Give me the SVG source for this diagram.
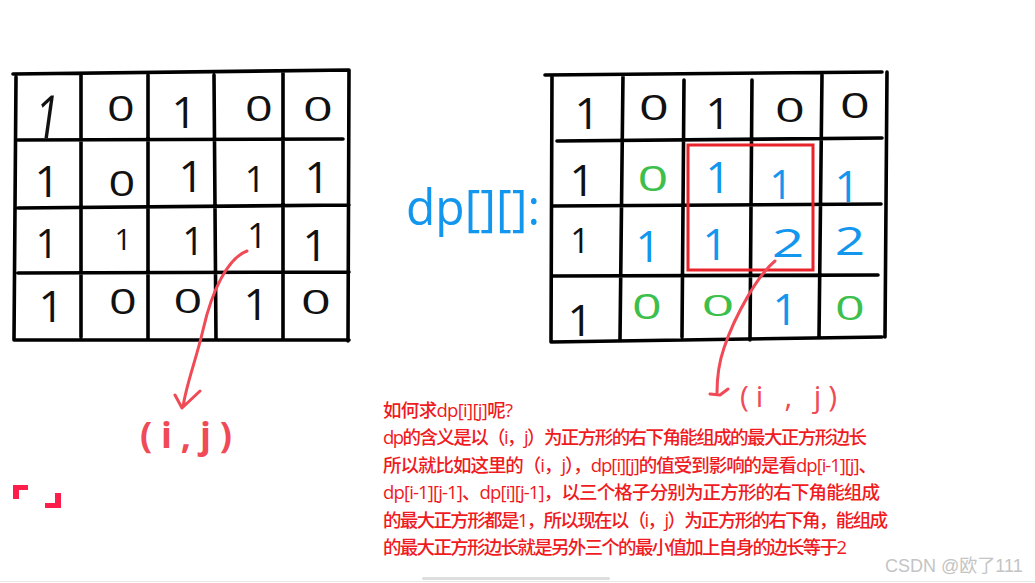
<svg xmlns="http://www.w3.org/2000/svg" width="1035" height="583" viewBox="0 0 1035 583">
<style>
.g{stroke:#000;stroke-width:3.6;stroke-linecap:round;fill:none}
.d{font-family:"Open Sans","DejaVu Sans",sans-serif;text-anchor:middle}
.one{font-size:44px}
.zero{font-size:36px}
.two{font-size:38px}
.k{fill:#111}
.b{fill:#1296ee}
.gr{fill:#3cbf4c}
.hw{stroke:#f04a56;stroke-width:3;fill:none;stroke-linecap:round;stroke-linejoin:round}
.hwt{font-family:"Open Sans","DejaVu Sans",sans-serif;fill:#f04a56}
.p{font-family:"Open Sans","Noto Sans CJK SC",sans-serif;font-size:18.5px;font-weight:500;fill:#f01a22}
</style>
<rect width="1035" height="583" fill="#fff"/>

<g id="left-grid">
<path class="g" d="M13,74 L349,70 M16,77 L14,340 M14,340 L349,340 M349,70 L348,341 M18,140 L343,139 M18,208 L349,205 M18,273 L349,272 M81,75 L81,337 M148,75 L148,339 M214,75 L216,340 M283,73 L283,339"/>
<g class="d k">
<text class="one" transform="translate(45,138) skewX(-8) scale(1,1.35)">1</text>
<text class="zero" transform="translate(121,121) scale(1.35,0.95)">0</text>
<text class="one" x="184" y="128">1</text>
<text class="zero" transform="translate(259,121) scale(1.35,0.95)">0</text>
<text class="zero" transform="translate(318,121) scale(1.45,0.9)">0</text>
<text class="one" x="47" y="197">1</text>
<text class="zero" transform="translate(122,196) scale(1.3,0.95)">0</text>
<text class="one" x="191" y="192">1</text>
<text class="one" x="255" y="192" style="font-size:36px">1</text>
<text class="one" x="317" y="193">1</text>
<text class="one" x="47" y="258" style="font-size:40px">1</text>
<text class="one" x="123" y="250" style="font-size:30px">1</text>
<text class="one" x="193" y="255" style="font-size:38px">1</text>
<text class="one" x="257" y="248" style="font-size:34px">1</text>
<text class="one" x="315" y="261">1</text>
<text class="one" x="51" y="322">1</text>
<text class="zero" transform="translate(123,314) scale(1.35,0.95)">0</text>
<text class="zero" transform="translate(188,313) scale(1.4,0.9)">0</text>
<text class="one" x="256" y="320">1</text>
<text class="zero" transform="translate(316,314) scale(1.45,0.9)">0</text>
</g>
</g>

<g id="right-grid">
<path class="g" d="M545,75 L882,72 M552,76 L551,342 M551,342 L882,337 M887,72 L885,337 M557,141 L882,138 M552,206 L881,204 M553,276 L878,275 M623,75 L620,340 M684,80 L682,337 M752,80 L750,340 M822,75 L819,337"/>
<g class="d">
<text class="one k" x="587" y="129">1</text>
<text class="zero k" transform="translate(654,120) scale(1.45,0.95)">0</text>
<text class="one k" x="718" y="129">1</text>
<text class="zero k" transform="translate(790,122) scale(1.45,0.9)">0</text>
<text class="zero k" transform="translate(855,118) scale(1.45,0.95)">0</text>
<text class="one k" x="582" y="196">1</text>
<text class="zero gr" transform="translate(653,191) scale(1.5,0.95)">0</text>
<text class="one b" x="718" y="193">1</text>
<text class="one b" x="781" y="199" style="font-size:40px">1</text>
<text class="one b" x="847" y="202">1</text>
<text class="one k" x="580" y="253" style="font-size:34px">1</text>
<text class="one b" x="648" y="262">1</text>
<text class="one b" x="715" y="260">1</text>
<text class="two b" transform="translate(788,257) scale(1.5,1)">2</text>
<text class="two b" transform="translate(850,255) scale(1.4,1)">2</text>
<text class="one k" x="580" y="336">1</text>
<text class="zero gr" transform="translate(647,319) scale(1.45,0.95)">0</text>
<text class="zero gr" transform="translate(718,316) scale(1.6,0.8)">0</text>
<text class="one b" x="785" y="325">1</text>
<text class="zero gr" transform="translate(850,320) scale(1.45,0.9)">0</text>
</g>
<rect x="688" y="145" width="125" height="125" fill="none" stroke="#e8232b" stroke-width="3"/>
<text x="406" y="225" style="font-family:'Open Sans','DejaVu Sans',sans-serif;font-size:50px;fill:#1296ee" textLength="134" lengthAdjust="spacingAndGlyphs">dp[][]:</text>
</g>

<g id="connectors">
<path class="hw" d="M247,251 C228,258 212,290 203,330 C196,360 186,385 183,407 M175,395 L182,408 L200,391"/>
<path class="hw" stroke-width="2" d="M775,261 C758,275 735,315 724,348 C717,368 717,383 717,393 M710,394 L720,395 L728,389"/>
</g>

<g id="labels">
<text class="hwt" x="140" y="448" style="font-size:36px;font-weight:bold" textLength="92" lengthAdjust="spacing">(i,j)</text>
<text class="hwt" x="740" y="407" style="font-size:30px" textLength="97" lengthAdjust="spacing">(i , j)</text>
</g>

<g id="marks" fill="#ff1e4b">
<path d="M13,485 H28 V490 H19 V499 H13 Z"/>
<path d="M61,493 V508 H45 V503 H55 V493 Z"/>
</g>

<g id="explanation" class="p">
<text x="383" y="416.5" textLength="130" lengthAdjust="spacing">如何求dp[i][j]呢?</text>
<text x="383" y="444" textLength="484" lengthAdjust="spacing">dp的含义是以（i，j）为正方形的右下角能组成的最大正方形边长</text>
<text x="383" y="471.5" textLength="494" lengthAdjust="spacing">所以就比如这里的（i，j），dp[i][j]的值受到影响的是看dp[i-1][j]、</text>
<text x="383" y="499" textLength="497" lengthAdjust="spacing">dp[i-1][j-1]、dp[i][j-1]，以三个格子分别为正方形的右下角能组成</text>
<text x="383" y="526.5" textLength="505" lengthAdjust="spacing">的最大正方形都是1，所以现在以（i，j）为正方形的右下角，能组成</text>
<text x="383" y="554" textLength="464" lengthAdjust="spacing">的最大正方形边长就是另外三个的最小值加上自身的边长等于2</text>
</g>

<g id="footer">
<text x="885" y="572" style="font-family:'Liberation Sans','Noto Sans CJK SC',sans-serif;font-size:18px;fill:#c4c4c4">CSDN @欧了111</text>
<rect x="422" y="577" width="188" height="3" rx="1.5" fill="#dedede"/>
<rect x="0" y="581" width="1035" height="1" fill="#e8e8e8"/>
</g>
</svg>
